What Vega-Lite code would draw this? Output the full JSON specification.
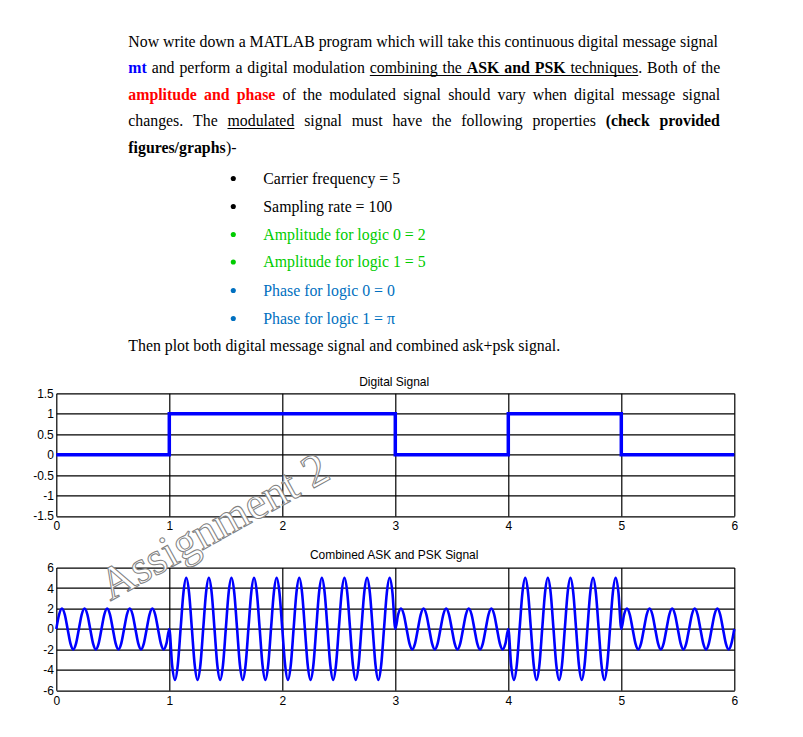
{
  "$schema": "https://vega.github.io/schema/vega-lite/v6.json",
  "padding": {"left": 32.3, "top": 0, "right": 0, "bottom": 0},
  "background": "#ffffff",
  "bounds": "flush",
  "spacing": 51.3,
  "datasets": {
    "words": [
      {"x": 128, "y": 46.5, "text": "Now write down a MATLAB program which will take this continuous digital message signal", "kind": "body"},
      {"x": 128, "y": 73, "text": "mt", "kind": "var"},
      {"x": 151.37, "y": 73, "text": "and", "kind": "body"},
      {"x": 179.15, "y": 73, "text": "perform", "kind": "body"},
      {"x": 235.1, "y": 73, "text": "a", "kind": "body"},
      {"x": 247.03, "y": 73, "text": "digital", "kind": "body"},
      {"x": 292.44, "y": 73, "text": "modulation", "kind": "body"},
      {"x": 369.54, "y": 73, "text": "combining", "kind": "body"},
      {"x": 442.25, "y": 73, "text": "the", "kind": "body"},
      {"x": 466.51, "y": 73, "text": "ASK", "kind": "strong"},
      {"x": 504.0, "y": 73, "text": "and", "kind": "strong"},
      {"x": 534.44, "y": 73, "text": "PSK", "kind": "strong"},
      {"x": 570.16, "y": 73, "text": "techniques.", "kind": "body"},
      {"x": 646.8, "y": 73, "text": "Both", "kind": "body"},
      {"x": 682.53, "y": 73, "text": "of", "kind": "body"},
      {"x": 700.62, "y": 73, "text": "the", "kind": "body"},
      {"x": 128, "y": 99.5, "text": "amplitude", "kind": "key"},
      {"x": 203.76, "y": 99.5, "text": "and", "kind": "key"},
      {"x": 236.38, "y": 99.5, "text": "phase", "kind": "key"},
      {"x": 282.2, "y": 99.5, "text": "of", "kind": "body"},
      {"x": 302.47, "y": 99.5, "text": "the", "kind": "body"},
      {"x": 328.9, "y": 99.5, "text": "modulated", "kind": "body"},
      {"x": 402.89, "y": 99.5, "text": "signal", "kind": "body"},
      {"x": 447.83, "y": 99.5, "text": "should", "kind": "body"},
      {"x": 497.17, "y": 99.5, "text": "vary", "kind": "body"},
      {"x": 532.41, "y": 99.5, "text": "when", "kind": "body"},
      {"x": 573.81, "y": 99.5, "text": "digital", "kind": "body"},
      {"x": 621.39, "y": 99.5, "text": "message", "kind": "body"},
      {"x": 682.16, "y": 99.5, "text": "signal", "kind": "body"},
      {"x": 128, "y": 126, "text": "changes.", "kind": "body"},
      {"x": 192.78, "y": 126, "text": "The", "kind": "body"},
      {"x": 227.19, "y": 126, "text": "modulated", "kind": "body"},
      {"x": 303.87, "y": 126, "text": "signal", "kind": "body"},
      {"x": 351.5, "y": 126, "text": "must", "kind": "body"},
      {"x": 392.09, "y": 126, "text": "have", "kind": "body"},
      {"x": 431.77, "y": 126, "text": "the", "kind": "body"},
      {"x": 460.9, "y": 126, "text": "following", "kind": "body"},
      {"x": 532.3, "y": 126, "text": "properties", "kind": "body"},
      {"x": 605.44, "y": 126, "text": "(check", "kind": "strong"},
      {"x": 659.22, "y": 126, "text": "provided", "kind": "strong"},
      {"x": 128, "y": 152.5, "text": "figures/graphs", "kind": "strong"},
      {"x": 225.75, "y": 152.5, "text": ")-", "kind": "body"},
      {"x": 263, "y": 183.5, "text": "Carrier frequency = 5", "kind": "body"},
      {"x": 263, "y": 211.5, "text": "Sampling rate = 100", "kind": "body"},
      {"x": 263, "y": 239.5, "text": "Amplitude for logic 0 = 2", "kind": "amp"},
      {"x": 263, "y": 267, "text": "Amplitude for logic 1 = 5", "kind": "amp"},
      {"x": 263, "y": 295.5, "text": "Phase for logic 0 = 0", "kind": "phase"},
      {"x": 263, "y": 323.5, "text": "Phase for logic 1 = π", "kind": "phase"},
      {"x": 128, "y": 350.7, "text": "Then plot both digital message signal and combined ask+psk signal.", "kind": "body"}
    ],
    "underlines": [
      {"x": 369.54, "x2": 637.95, "y": 75.5},
      {"x": 227.19, "x2": 294.11, "y": 128.5}
    ],
    "bullets": [
      {"x": 233, "y": 178.5, "kind": "body"},
      {"x": 233, "y": 206.5, "kind": "body"},
      {"x": 233, "y": 234.5, "kind": "amp"},
      {"x": 233, "y": 262, "kind": "amp"},
      {"x": 233, "y": 290.5, "kind": "phase"},
      {"x": 233, "y": 318.5, "kind": "phase"}
    ],
    "digital": [
      {"t": 0, "b": 0}, {"t": 1, "b": 1}, {"t": 2, "b": 1}, {"t": 3, "b": 0},
      {"t": 4, "b": 1}, {"t": 5, "b": 0}, {"t": 6, "b": 0}
    ],
    "digitalTitle": [
      {"t": 2.99, "b": 1.69, "label": "Digital Signal"}
    ],
    "modulated": [
      {"t":0,"v":0},{"t":0.025,"v":1.414},{"t":0.05,"v":2},{"t":0.075,"v":1.414},{"t":0.1,"v":0},{"t":0.125,"v":-1.414},{"t":0.15,"v":-2},{"t":0.175,"v":-1.414},
      {"t":0.2,"v":0},{"t":0.225,"v":1.414},{"t":0.25,"v":2},{"t":0.275,"v":1.414},{"t":0.3,"v":0},{"t":0.325,"v":-1.414},{"t":0.35,"v":-2},{"t":0.375,"v":-1.414},
      {"t":0.4,"v":0},{"t":0.425,"v":1.414},{"t":0.45,"v":2},{"t":0.475,"v":1.414},{"t":0.5,"v":0},{"t":0.525,"v":-1.414},{"t":0.55,"v":-2},{"t":0.575,"v":-1.414},
      {"t":0.6,"v":0},{"t":0.625,"v":1.414},{"t":0.65,"v":2},{"t":0.675,"v":1.414},{"t":0.7,"v":0},{"t":0.725,"v":-1.414},{"t":0.75,"v":-2},{"t":0.775,"v":-1.414},
      {"t":0.8,"v":0},{"t":0.825,"v":1.414},{"t":0.85,"v":2},{"t":0.875,"v":1.414},{"t":0.9,"v":0},{"t":0.925,"v":-1.414},{"t":0.95,"v":-2},{"t":0.975,"v":-1.414},
      {"t":1,"v":0},{"t":1.025,"v":-3.536},{"t":1.05,"v":-5},{"t":1.075,"v":-3.536},{"t":1.1,"v":0},{"t":1.125,"v":3.536},{"t":1.15,"v":5},{"t":1.175,"v":3.536},
      {"t":1.2,"v":0},{"t":1.225,"v":-3.536},{"t":1.25,"v":-5},{"t":1.275,"v":-3.536},{"t":1.3,"v":0},{"t":1.325,"v":3.536},{"t":1.35,"v":5},{"t":1.375,"v":3.536},
      {"t":1.4,"v":0},{"t":1.425,"v":-3.536},{"t":1.45,"v":-5},{"t":1.475,"v":-3.536},{"t":1.5,"v":0},{"t":1.525,"v":3.536},{"t":1.55,"v":5},{"t":1.575,"v":3.536},
      {"t":1.6,"v":0},{"t":1.625,"v":-3.536},{"t":1.65,"v":-5},{"t":1.675,"v":-3.536},{"t":1.7,"v":0},{"t":1.725,"v":3.536},{"t":1.75,"v":5},{"t":1.775,"v":3.536},
      {"t":1.8,"v":0},{"t":1.825,"v":-3.536},{"t":1.85,"v":-5},{"t":1.875,"v":-3.536},{"t":1.9,"v":0},{"t":1.925,"v":3.536},{"t":1.95,"v":5},{"t":1.975,"v":3.536},
      {"t":2,"v":0},{"t":2.025,"v":-3.536},{"t":2.05,"v":-5},{"t":2.075,"v":-3.536},{"t":2.1,"v":0},{"t":2.125,"v":3.536},{"t":2.15,"v":5},{"t":2.175,"v":3.536},
      {"t":2.2,"v":0},{"t":2.225,"v":-3.536},{"t":2.25,"v":-5},{"t":2.275,"v":-3.536},{"t":2.3,"v":0},{"t":2.325,"v":3.536},{"t":2.35,"v":5},{"t":2.375,"v":3.536},
      {"t":2.4,"v":0},{"t":2.425,"v":-3.536},{"t":2.45,"v":-5},{"t":2.475,"v":-3.536},{"t":2.5,"v":0},{"t":2.525,"v":3.536},{"t":2.55,"v":5},{"t":2.575,"v":3.536},
      {"t":2.6,"v":0},{"t":2.625,"v":-3.536},{"t":2.65,"v":-5},{"t":2.675,"v":-3.536},{"t":2.7,"v":0},{"t":2.725,"v":3.536},{"t":2.75,"v":5},{"t":2.775,"v":3.536},
      {"t":2.8,"v":0},{"t":2.825,"v":-3.536},{"t":2.85,"v":-5},{"t":2.875,"v":-3.536},{"t":2.9,"v":0},{"t":2.925,"v":3.536},{"t":2.95,"v":5},{"t":2.975,"v":3.536},
      {"t":3,"v":0},{"t":3.025,"v":1.414},{"t":3.05,"v":2},{"t":3.075,"v":1.414},{"t":3.1,"v":0},{"t":3.125,"v":-1.414},{"t":3.15,"v":-2},{"t":3.175,"v":-1.414},
      {"t":3.2,"v":0},{"t":3.225,"v":1.414},{"t":3.25,"v":2},{"t":3.275,"v":1.414},{"t":3.3,"v":0},{"t":3.325,"v":-1.414},{"t":3.35,"v":-2},{"t":3.375,"v":-1.414},
      {"t":3.4,"v":0},{"t":3.425,"v":1.414},{"t":3.45,"v":2},{"t":3.475,"v":1.414},{"t":3.5,"v":0},{"t":3.525,"v":-1.414},{"t":3.55,"v":-2},{"t":3.575,"v":-1.414},
      {"t":3.6,"v":0},{"t":3.625,"v":1.414},{"t":3.65,"v":2},{"t":3.675,"v":1.414},{"t":3.7,"v":0},{"t":3.725,"v":-1.414},{"t":3.75,"v":-2},{"t":3.775,"v":-1.414},
      {"t":3.8,"v":0},{"t":3.825,"v":1.414},{"t":3.85,"v":2},{"t":3.875,"v":1.414},{"t":3.9,"v":0},{"t":3.925,"v":-1.414},{"t":3.95,"v":-2},{"t":3.975,"v":-1.414},
      {"t":4,"v":0},{"t":4.025,"v":-3.536},{"t":4.05,"v":-5},{"t":4.075,"v":-3.536},{"t":4.1,"v":0},{"t":4.125,"v":3.536},{"t":4.15,"v":5},{"t":4.175,"v":3.536},
      {"t":4.2,"v":0},{"t":4.225,"v":-3.536},{"t":4.25,"v":-5},{"t":4.275,"v":-3.536},{"t":4.3,"v":0},{"t":4.325,"v":3.536},{"t":4.35,"v":5},{"t":4.375,"v":3.536},
      {"t":4.4,"v":0},{"t":4.425,"v":-3.536},{"t":4.45,"v":-5},{"t":4.475,"v":-3.536},{"t":4.5,"v":0},{"t":4.525,"v":3.536},{"t":4.55,"v":5},{"t":4.575,"v":3.536},
      {"t":4.6,"v":0},{"t":4.625,"v":-3.536},{"t":4.65,"v":-5},{"t":4.675,"v":-3.536},{"t":4.7,"v":0},{"t":4.725,"v":3.536},{"t":4.75,"v":5},{"t":4.775,"v":3.536},
      {"t":4.8,"v":0},{"t":4.825,"v":-3.536},{"t":4.85,"v":-5},{"t":4.875,"v":-3.536},{"t":4.9,"v":0},{"t":4.925,"v":3.536},{"t":4.95,"v":5},{"t":4.975,"v":3.536},
      {"t":5,"v":0},{"t":5.025,"v":1.414},{"t":5.05,"v":2},{"t":5.075,"v":1.414},{"t":5.1,"v":0},{"t":5.125,"v":-1.414},{"t":5.15,"v":-2},{"t":5.175,"v":-1.414},
      {"t":5.2,"v":0},{"t":5.225,"v":1.414},{"t":5.25,"v":2},{"t":5.275,"v":1.414},{"t":5.3,"v":0},{"t":5.325,"v":-1.414},{"t":5.35,"v":-2},{"t":5.375,"v":-1.414},
      {"t":5.4,"v":0},{"t":5.425,"v":1.414},{"t":5.45,"v":2},{"t":5.475,"v":1.414},{"t":5.5,"v":0},{"t":5.525,"v":-1.414},{"t":5.55,"v":-2},{"t":5.575,"v":-1.414},
      {"t":5.6,"v":0},{"t":5.625,"v":1.414},{"t":5.65,"v":2},{"t":5.675,"v":1.414},{"t":5.7,"v":0},{"t":5.725,"v":-1.414},{"t":5.75,"v":-2},{"t":5.775,"v":-1.414},
      {"t":5.8,"v":0},{"t":5.825,"v":1.414},{"t":5.85,"v":2},{"t":5.875,"v":1.414},{"t":5.9,"v":0},{"t":5.925,"v":-1.414},{"t":5.95,"v":-2},{"t":5.975,"v":-1.414},
      {"t":6,"v":0}
    ],
    "modTitle": [
      {"t": 2.99, "v": 6.81, "label": "Combined ASK and PSK Signal"}
    ],
    "watermark": [
      {"t": 1.4, "v": 9.94, "label": "Assignment 2"}
    ]
  },
  "vconcat": [
    {
      "width": 678,
      "height": 342,
      "encoding": {
        "x": {"field": "x", "type": "quantitative", "scale": {"domain": [56, 734], "nice": false, "zero": false}, "axis": null},
        "y": {"field": "y", "type": "quantitative", "scale": {"domain": [0, 342], "nice": false, "zero": false, "reverse": true}, "axis": null}
      },
      "layer": [
        {
          "data": {"name": "words"},
          "transform": [{"filter": "datum.kind === 'body' || datum.kind === 'amp' || datum.kind === 'phase'"}],
          "mark": {"type": "text", "align": "left", "baseline": "alphabetic", "font": "Liberation Serif", "fontSize": 15.85, "fontWeight": "normal"},
          "encoding": {
            "text": {"field": "text"},
            "color": {"field": "kind", "type": "nominal", "scale": {"domain": ["body", "strong", "var", "key", "amp", "phase"], "range": ["#000000", "#000000", "#0000ff", "#ff0000", "#00cc00", "#0070c0"]}, "legend": null}
          }
        },
        {
          "data": {"name": "words"},
          "transform": [{"filter": "datum.kind === 'strong' || datum.kind === 'var' || datum.kind === 'key'"}],
          "mark": {"type": "text", "align": "left", "baseline": "alphabetic", "font": "Liberation Serif", "fontSize": 15.85, "fontWeight": "bold"},
          "encoding": {
            "text": {"field": "text"},
            "color": {"field": "kind", "type": "nominal", "legend": null}
          }
        },
        {
          "data": {"name": "underlines"},
          "mark": {"type": "rule", "color": "#000000", "strokeWidth": 1},
          "encoding": {"x2": {"field": "x2"}}
        },
        {
          "data": {"name": "bullets"},
          "mark": {"type": "circle", "size": 26, "opacity": 1},
          "encoding": {
            "color": {"field": "kind", "type": "nominal", "legend": null}
          }
        }
      ]
    },
    {
      "width": 678,
      "height": 122.7,
      "encoding": {
        "x": {"field": "t", "type": "quantitative", "scale": {"domain": [0, 6], "nice": false, "zero": false},
              "axis": {"title": null, "values": [0, 1, 2, 3, 4, 5, 6]}},
        "y": {"field": "b", "type": "quantitative", "scale": {"domain": [-1.5, 1.5], "nice": false, "zero": false},
              "axis": {"title": null, "values": [-1.5, -1, -0.5, 0, 0.5, 1, 1.5], "format": "~g", "labelExpr": "replace(datum.label, '−', '-')"}}
      },
      "layer": [
        {
          "data": {"name": "digital"},
          "mark": {"type": "line", "interpolate": "step-after", "color": "#0000ff", "strokeWidth": 3.5}
        },
        {
          "data": {"name": "digitalTitle"},
          "mark": {"type": "text", "align": "center", "baseline": "alphabetic", "font": "Liberation Sans", "fontSize": 12, "color": "#000000"},
          "encoding": {"text": {"field": "label"}}
        }
      ]
    },
    {
      "width": 678,
      "height": 122.7,
      "encoding": {
        "x": {"field": "t", "type": "quantitative", "scale": {"domain": [0, 6], "nice": false, "zero": false},
              "axis": {"title": null, "values": [0, 1, 2, 3, 4, 5, 6]}},
        "y": {"field": "v", "type": "quantitative", "scale": {"domain": [-6, 6], "nice": false, "zero": false},
              "axis": {"title": null, "values": [-6, -4, -2, 0, 2, 4, 6], "format": "~g", "labelExpr": "replace(datum.label, '−', '-')"}}
      },
      "layer": [
        {
          "data": {"name": "modulated"},
          "mark": {"type": "line", "interpolate": "monotone", "color": "#0000ff", "strokeWidth": 2.6, "strokeJoin": "round"}
        },
        {
          "data": {"name": "modTitle"},
          "mark": {"type": "text", "align": "center", "baseline": "alphabetic", "font": "Liberation Sans", "fontSize": 12, "color": "#000000"},
          "encoding": {"text": {"field": "label"}}
        },
        {
          "data": {"name": "watermark"},
          "mark": {"type": "text", "align": "center", "baseline": "middle", "angle": -29, "font": "Liberation Serif", "fontSize": 46, "fill": "#ffffff", "stroke": "#808080", "strokeWidth": 1, "opacity": 1},
          "encoding": {"text": {"field": "label"}}
        }
      ]
    }
  ],
  "config": {
    "view": {"stroke": null},
    "axis": {
      "grid": true, "gridColor": "#000000", "gridOpacity": 1, "gridWidth": 1.2,
      "domain": false, "ticks": false, "tickSize": 0,
      "labelFont": "Liberation Sans", "labelFontSize": 12, "labelColor": "#000000",
      "labelFlush": false, "labelOverlap": false, "labelBound": false
    },
    "axisX": {"labelPadding": 5},
    "axisY": {"labelPadding": 3}
  }
}
